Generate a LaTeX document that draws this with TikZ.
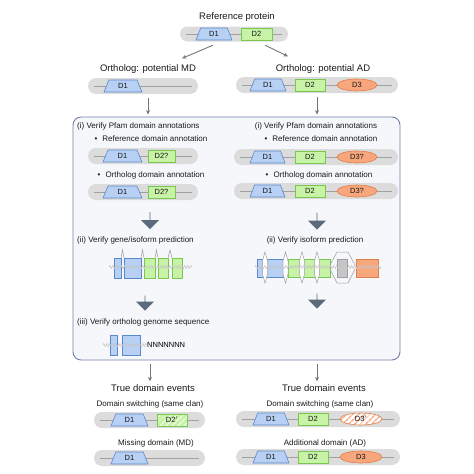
\documentclass[tikz,border=0pt]{standalone}
\usepackage{fontspec}
\setmainfont{Liberation Sans}
\usepackage{xcolor}
\usepackage{tikz}
\usetikzlibrary{shapes,shapes.geometric,shapes.arrows,arrows.meta,calc}
\usetikzlibrary{patterns.meta,decorations.pathmorphing}

\definecolor{cBlueFill}{HTML}{B7D0F4}
\definecolor{cBlueLine}{HTML}{5A88CC}
\definecolor{cGreenFill}{HTML}{C8F2A6}
\definecolor{cGreenLine}{HTML}{78C850}
\definecolor{cOrangeFill}{HTML}{F8A67C}
\definecolor{cOrangeLine}{HTML}{E27E4A}
\definecolor{cGrayExon}{HTML}{C6C6C6}
\definecolor{cBar}{HTML}{DCDCDC}
\definecolor{cAxis}{HTML}{A0A0A0}
\definecolor{cPanel}{HTML}{F5F7FA}
\definecolor{cPanelLine}{HTML}{7080A8}
\definecolor{cSlate}{HTML}{5B6B7C}
\definecolor{cArrow}{HTML}{757575}

\tikzstyle{tsTitle} = [
    text=black!90,
    font=\fontsize{9.5}{11}\selectfont,
    inner sep=1pt
]
\tikzstyle{tsStep} = [
    text=black!90,
    font=\fontsize{8}{9.5}\selectfont,
    inner sep=1pt
]
\tikzstyle{tsBar} = [
    rectangle,
    rounded corners=7.5pt,
    fill=cBar,
    minimum height=15pt,
    inner sep=0pt
]
\tikzstyle{tsAxis} = [
    draw=cAxis,
    line width=0.5pt
]
\tikzstyle{tsDomBase} = [
    text=black!90,
    font=\fontsize{7.5}{8}\selectfont,
    inner sep=0pt,
    minimum height=12pt,
    line width=0.6pt
]
\tikzstyle{tsTrap} = [
    tsDomBase,
    trapezium,
    trapezium angle=72,
    trapezium stretches=true,
    fill=cBlueFill,
    draw=cBlueLine
]
\tikzstyle{tsBox} = [
    tsDomBase,
    rectangle,
    fill=cGreenFill,
    draw=cGreenLine
]
\tikzstyle{tsOval} = [
    tsDomBase,
    ellipse,
    fill=cOrangeFill,
    draw=cOrangeLine
]
\tikzstyle{tsPanel} = [
    rectangle,
    rounded corners=8pt,
    fill=cPanel,
    draw=cPanelLine,
    line width=0.9pt
]
\tikzstyle{tsArrow} = [
    draw=cArrow,
    line width=0.9pt,
    -{Stealth[length=4.5pt,width=4pt]}
]
\tikzstyle{tsBig} = [
    single arrow,
    shape border rotate=270,
    fill=cSlate,
    draw=none,
    minimum height=17pt,
    minimum width=18pt,
    single arrow head extend=4.5pt,
    single arrow head indent=0pt,
    inner sep=0pt
]
\tikzstyle{tsExonA} = [fill=cBlueFill, draw=cBlueLine, line width=0.5pt]
\tikzstyle{tsExonB} = [fill=cGreenFill, draw=cGreenLine, line width=0.5pt]
\tikzstyle{tsExonC} = [fill=cOrangeFill, draw=cOrangeLine, line width=0.5pt]
\tikzstyle{tsExonG} = [fill=cGrayExon, draw=cGrayExon!80!black, line width=0.4pt]
\tikzstyle{tsIntron} = [draw=gray!75, line width=0.5pt]
\tikzstyle{tsLens} = [draw=gray!75, fill=white, line width=0.5pt]
\tikzstyle{tsDna} = [
    draw=gray!45,
    line width=0.5pt,
    decorate,
    decoration={zigzag, amplitude=1.5pt, segment length=3pt}
]

\begin{document}
\begin{tikzpicture}[x=1pt, y=-1pt]
        \useasboundingbox (0,0) rectangle (474,474);

        % reference protein
        \node[tsTitle] (reftitle) at (237,17) {Reference protein};
        \node[tsBar, minimum width=108pt] (refbar) at (234,34) {};
        \draw[tsAxis] ([xshift=6pt]refbar.west) -- ([xshift=-6pt]refbar.east);
        \node[tsTrap, minimum width=36pt] (refD1) at (214,34) {D1};
        \node[tsBox, minimum width=31pt] (refD2) at (256.5,34) {D2};

        % orthologs
        \node[tsTitle] (mdtitle) at (148,69) {Ortholog: potential MD};
        \node[tsBar, minimum width=110pt, minimum height=16pt, rounded corners=8pt] (mdbar) at (143,86) {};
        \draw[tsAxis] ([xshift=6pt]mdbar.west) -- ([xshift=-6pt]mdbar.east);
        \node[tsTrap, minimum width=38pt] (mdD1) at (123,86) {D1};

        \node[tsTitle] (adtitle) at (323,69) {Ortholog: potential AD};
        \node[tsBar, minimum width=162pt, minimum height=16pt, rounded corners=8pt] (adbar) at (317,85) {};
        \draw[tsAxis] ([xshift=6pt]adbar.west) -- ([xshift=-6pt]adbar.east);
        \node[tsTrap, minimum width=36pt] (adD1) at (268,85) {D1};
        \node[tsBox, minimum width=30pt] (adD2) at (310,85) {D2};
        \node[tsOval, minimum width=40pt] (adD3) at (357,85) {D3};

        \draw[tsArrow] ([xshift=-21pt,yshift=-3.5pt]refbar.south) -- ([xshift=34pt,yshift=5pt]mdtitle.north);
        \draw[tsArrow] ([xshift=31pt,yshift=-3.5pt]refbar.south) -- ([xshift=-35pt,yshift=7pt]adtitle.north);

        % verification panel
        \node[tsPanel, minimum width=327pt, minimum height=243pt] (checkbox) at (236.5,238.5) {};
        \draw[tsArrow, shorten <=4pt, shorten >=2pt] (mdbar.south -| mdtitle.south) -- (checkbox.north -| mdtitle.south);
        \draw[tsArrow, shorten <=4pt, shorten >=2pt] (adbar.south) -- (adbar.south |- checkbox.north);

        % left column
        \node[tsStep, anchor=west] (lstepA) at (76,126) {(i) Verify Pfam domain annotations};
        \node[tsStep] (lrefnote) at (151,139) {\textbullet\hspace{5pt}Reference domain annotation};
        \node[tsBar, minimum width=110pt, minimum height=16pt, rounded corners=8pt] (lrefbar) at (143,156) {};
        \draw[tsAxis] ([xshift=6pt]lrefbar.west) -- ([xshift=-6pt]lrefbar.east);
        \node[tsTrap, minimum width=39pt] (lrefD1) at (122.5,156) {D1};
        \node[tsBox, minimum width=27pt] (lrefD2) at (161.5,156) {D2?};

        \node[tsStep] (lorthnote) at (151,175) {\textbullet\hspace{5pt}Ortholog domain annotation};
        \node[tsBar, minimum width=110pt, minimum height=16pt, rounded corners=8pt] (lorthbar) at (143,192) {};
        \draw[tsAxis] ([xshift=6pt]lorthbar.west) -- ([xshift=-6pt]lorthbar.east);
        \node[tsTrap, minimum width=39pt] (lorthD1) at (122.5,192) {D1};
        \node[tsBox, minimum width=27pt] (lorthD2) at (161.5,192) {D2?};

        \node[tsBig] (lbigA) at (150,220.5) {};
        \node[tsStep, anchor=west] (lstepB) at (76,240) {(ii) Verify gene/isoform prediction};

        \draw[tsExonA] (114,258) rectangle (121,278);
        \draw[tsExonA] (124,258) rectangle (141,278);
        \draw[tsExonB] (144,258) rectangle (155,278);
        \draw[tsExonB] (158,258) rectangle (168,278);
        \draw[tsExonB] (172,258) rectangle (182,278);
        \draw[tsIntron] (121,258) -- (122.5,250) -- (124,258);
        \draw[tsIntron] (141,258) -- (142.5,250) -- (144,258);
        \draw[tsIntron] (155,258) -- (156.5,250) -- (158,258);
        \draw[tsIntron] (168,258) -- (170,250) -- (172,258);
        \draw[tsDna] (109,267) -- (192,267);

        \node[tsBig, minimum height=15pt] (lbigB) at (145,303) {};
        \node[tsStep, anchor=west] (lstepC) at (76,322) {(iii) Verify ortholog genome sequence};

        \draw[tsExonA] (110,335) rectangle (117,355);
        \draw[tsExonA] (122,335) rectangle (140,355);
        \draw[tsDna] (103,345) -- (147,345);
        \node[font=\fontsize{7.5}{8}\selectfont, anchor=west, inner sep=0pt] (gapseq) at (147,345) {NNNNNNN};

        % right column
        \node[tsStep] (rstepA) at (316,126) {(i) Verify Pfam domain annotations};
        \node[tsStep] (rrefnote) at (321,139) {\textbullet\hspace{5pt}Reference domain annotation};
        \node[tsBar, minimum width=164pt, minimum height=16pt, rounded corners=8pt] (rrefbar) at (316,157) {};
        \draw[tsAxis] ([xshift=6pt]rrefbar.west) -- ([xshift=-6pt]rrefbar.east);
        \node[tsTrap, minimum width=35pt] (rrefD1) at (267.5,157) {D1};
        \node[tsBox, minimum width=30pt] (rrefD2) at (310,157) {D2};
        \node[tsOval, minimum width=40pt] (rrefD3) at (357,157) {D3?};

        \node[tsStep] (rorthnote) at (319,175) {\textbullet\hspace{5pt}Ortholog domain annotation};
        \node[tsBar, minimum width=164pt, minimum height=16pt, rounded corners=8pt] (rorthbar) at (316,191) {};
        \draw[tsAxis] ([xshift=6pt]rorthbar.west) -- ([xshift=-6pt]rorthbar.east);
        \node[tsTrap, minimum width=35pt] (rorthD1) at (267.5,191) {D1};
        \node[tsBox, minimum width=30pt] (rorthD2) at (310,191) {D2};
        \node[tsOval, minimum width=40pt] (rorthD3) at (357,191) {D3?};

        \node[tsBig] (rbigA) at (317,221) {};
        \node[tsStep] (rstepB) at (315,240) {(ii) Verify isoform prediction};

        \draw[tsExonA] (257,259) rectangle (283,277);
        \draw[tsExonB] (288,259) rectangle (330,277);
        \draw[tsExonG] (337,259) rectangle (347,277);
        \draw[tsExonC] (356,259) rectangle (378,277);
        \draw[tsLens] (265,252) -- (267.5,261) -- (267.5,274) -- (265,283) -- (262.5,274) -- (262.5,261) -- cycle;
        \draw[tsLens] (285.5,252) -- (288,261) -- (288,274) -- (285.5,283) -- (283,274) -- (283,261) -- cycle;
        \draw[tsLens] (302,252) -- (304.5,261) -- (304.5,274) -- (302,283) -- (299.5,274) -- (299.5,261) -- cycle;
        \draw[tsLens] (317,252) -- (319.5,261) -- (319.5,274) -- (317,283) -- (314.5,274) -- (314.5,261) -- cycle;
        \draw[tsIntron] (330,265) -- (337,252) -- (348,252) -- (355,265);
        \draw[tsIntron] (330,269) -- (337,283) -- (348,283) -- (355,269);
        \draw[tsDna] (255,267) -- (381,267);

        \node[tsBig, minimum height=15pt] (rbigB) at (317,301) {};

        % true domain events
        \node[tsTitle] (ltrue) at (153,388) {True domain events};
        \node[tsTitle] (rtrue) at (324,388) {True domain events};
        \draw[tsArrow, shorten <=4pt, shorten >=2pt] (checkbox.south -| lbigA) -- (ltrue.north -| lbigA);
        \draw[tsArrow, shorten <=4pt, shorten >=2pt] (checkbox.south -| rbigA) -- (rtrue.north -| rbigA);

        \node[tsStep] (lswitch) at (150,404) {Domain switching (same clan)};
        \node[tsBar, minimum width=111pt, minimum height=16pt, rounded corners=8pt] (lswbar) at (149.5,420) {};
        \draw[tsAxis] ([xshift=6pt]lswbar.west) -- ([xshift=-6pt]lswbar.east);
        \node[tsTrap, minimum width=37pt] (lswD1) at (129.5,420) {D1};
        \node[tsBox, minimum width=30pt, preaction={fill=cGreenFill},
              pattern={Lines[angle=45,distance=4pt,line width=1.2pt]}, pattern color=white] (lswD2) at (172,420) {D2$'$};

        \node[tsStep] (rswitch) at (320,404) {Domain switching (same clan)};
        \node[tsBar, minimum width=164pt, minimum height=16pt, rounded corners=8pt] (rswbar) at (318,419) {};
        \draw[tsAxis] ([xshift=6pt]rswbar.west) -- ([xshift=-6pt]rswbar.east);
        \node[tsTrap, minimum width=36pt] (rswD1) at (271,419) {D1};
        \node[tsBox, minimum width=30pt] (rswD2) at (313,419) {D2};
        \node[tsOval, minimum width=42pt, preaction={fill=white},
              pattern={Lines[angle=45,distance=4pt,line width=1.5pt]}, pattern color=cOrangeFill] (rswD3) at (361,419) {D3$'$};

        \node[tsStep] (lmiss) at (156,443) {Missing domain (MD)};
        \node[tsBar, minimum width=111pt, minimum height=16pt, rounded corners=8pt] (lmissbar) at (149.5,458) {};
        \draw[tsAxis] ([xshift=6pt]lmissbar.west) -- ([xshift=-6pt]lmissbar.east);
        \node[tsTrap, minimum width=37pt] (lmissD1) at (129.5,458) {D1};

        \node[tsStep] (radd) at (325,443) {Additional domain (AD)};
        \node[tsBar, minimum width=164pt, minimum height=16pt, rounded corners=8pt] (raddbar) at (318,457) {};
        \draw[tsAxis] ([xshift=6pt]raddbar.west) -- ([xshift=-6pt]raddbar.east);
        \node[tsTrap, minimum width=36pt] (raddD1) at (271,457) {D1};
        \node[tsBox, minimum width=30pt] (raddD2) at (313,457) {D2};
        \node[tsOval, minimum width=42pt] (raddD3) at (361,457) {D3};

\end{tikzpicture}
\end{document}
